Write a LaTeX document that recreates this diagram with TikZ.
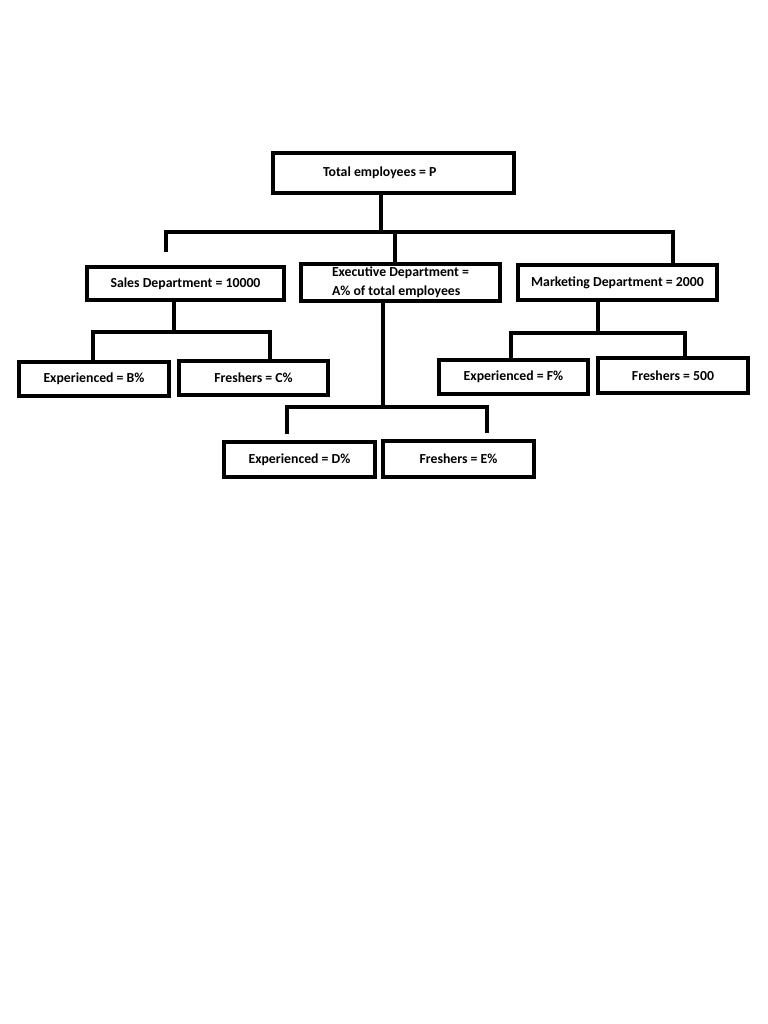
\documentclass[tikz,border=0pt]{standalone}
\usepackage{fontspec}
\setmainfont{Carlito}
\usetikzlibrary{positioning}

\begin{document}
\begin{tikzpicture}[x=0.025cm, y=-0.025cm, line width=2.2pt,
    box/.style={draw, fill=white, font=\fontsize{9.8}{13.5}\selectfont\bfseries,
      inner sep=0pt, align=center},
    link/.style={line cap=rect}]
  % page
  \useasboundingbox (0,0) rectangle (768,1024);

  % top level
  \node[box, minimum width=6.025cm, minimum height=1cm] (total) at (393.5,173)
    {Total employees = P\hspace{2em}};

  % departments
  \node[box, minimum width=4.925cm, minimum height=0.825cm] (sales) at (185.5,283.5)
    {Sales Department = 10000};
  \node[box, minimum width=4.975cm, minimum height=0.925cm, align=left] (exec) at (400.5,282.5)
    {Executive Department =\\A\% of total employees};
  \node[box, minimum width=4.975cm, minimum height=0.875cm] (mkt) at (617.5,282.5)
    {Marketing Department = 2000};

  % sales staff
  \node[box, minimum width=3.75cm, minimum height=0.85cm] (expB) at (94,379)
    {Experienced = B\%};
  \node[box, minimum width=3.725cm, minimum height=0.85cm] (frC) at (253.5,378)
    {Freshers = C\%};

  % marketing staff
  \node[box, minimum width=3.725cm, minimum height=0.85cm] (expF) at (513.5,377)
    {Experienced = F\%};
  \node[box, minimum width=3.75cm, minimum height=0.875cm] (fr500) at (673,375.5)
    {Freshers = 500};

  % executive staff
  \node[box, minimum width=3.775cm, minimum height=0.875cm] (expD) at (299.5,459.5)
    {Experienced = D\%};
  \node[box, minimum width=3.775cm, minimum height=0.9cm] (frE) at (458.5,459)
    {Freshers = E\%};

  % junction points
  \coordinate (tdrop) at (381,232);
  \coordinate (barL) at (166,232);
  \coordinate (barR) at (673,232);
  \coordinate (edrop) at (395,232);
  \coordinate (sdrop) at (174,332);
  \coordinate (sbarL) at (93,332);
  \coordinate (sbarR) at (270,332);
  \coordinate (mdrop) at (598,333);
  \coordinate (mbarL) at (511,333);
  \coordinate (mbarR) at (685,333);
  \coordinate (xdrop) at (383,407);
  \coordinate (xbarL) at (287,407);
  \coordinate (xbarR) at (487,407);

  % connectors
  \draw[link] (total.south -| tdrop) -- (tdrop);
  \draw[link, shorten <=5\pgflinewidth] (barL |- sales.north) -- (barL) -- (barR)
    -- (barR |- mkt.north);
  \draw[link] (edrop) -- (edrop |- exec.north);

  \draw[link] (sales.south -| sdrop) -- (sdrop);
  \draw[link, shorten <=1pt, shorten >=1pt] (sbarL |- expB.north) -- (sbarL) -- (sbarR)
    -- (sbarR |- frC.north);

  \draw[link] (mkt.south -| mdrop) -- (mdrop);
  \draw[link, shorten <=1pt, shorten >=1pt] (mbarL |- expF.north) -- (mbarL) -- (mbarR)
    -- (mbarR |- fr500.north);

  \draw[link] (exec.south -| xdrop) -- (xdrop);
  \draw[link, shorten <=6pt, shorten >=6pt] (xbarL |- expD.north) -- (xbarL) -- (xbarR)
    -- (xbarR |- frE.north);
\end{tikzpicture}
\end{document}
